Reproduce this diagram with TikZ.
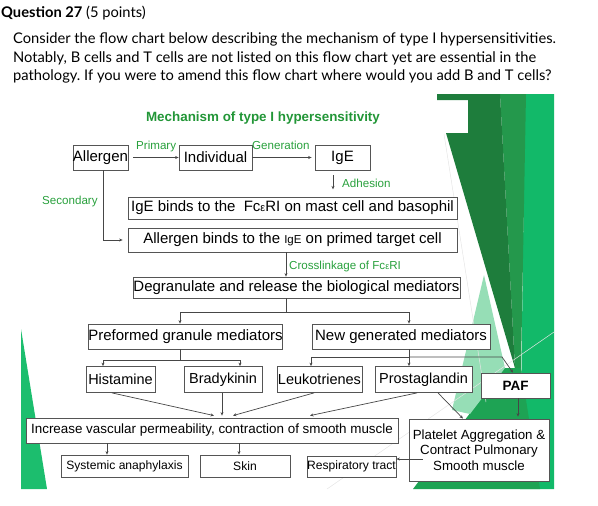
\documentclass[tikz,border=0pt]{standalone}
\usepackage{fontspec}
\setmainfont{Liberation Sans}
\newfontfamily\latofont{Lato}
\usetikzlibrary{arrows.meta,calc}
\frenchspacing
\newcommand\myfs[1]{\fontsize{#1}{#1}\selectfont}
\definecolor{boxgray}{RGB}{85,85,85}
\definecolor{linegray}{RGB}{70,70,70}
\definecolor{lblgreen}{RGB}{40,160,60}
\definecolor{titlegreen}{RGB}{34,150,55}
\definecolor{gdark}{RGB}{30,125,60}
\definecolor{gmed}{RGB}{36,152,76}
\definecolor{gbright}{RGB}{18,185,105}
\definecolor{gbottom}{RGB}{30,163,84}
\definecolor{gmint}{RGB}{150,222,182}
\definecolor{gleft}{RGB}{28,190,110}
\tikzset{
  box/.style={draw=boxgray, fill=white, line width=0.8pt, inner sep=0pt, align=center},
  conn/.style={draw=linegray, line width=0.7pt},
  arr/.style={-{Stealth[length=3.5pt,width=3pt]}},
  lbl/.style={text=lblgreen, inner sep=0pt, font=\myfs{11.6}},
  hdr/.style={anchor=base west, inner sep=0pt, font=\latofont\myfs{14.7}},
}
\begin{document}
\begin{tikzpicture}[x=1pt,y=-1pt]
\useasboundingbox (0,0) rectangle (598,506);
% ---------- background decoration ----------
\fill[gbright] (525,94) -- (554,94) -- (554,489) -- (520,489) -- cycle;
\fill[gmed] (500,94) -- (526,94) -- (521,368) -- (515,368) -- cycle;
\fill[gdark] (437,94) -- (500,94) -- (515,368) -- (446,133) -- (468,133) -- (468,100) -- (437,100) -- cycle;
\fill[gbottom] (413,489) -- (504,368) -- (521,368) -- (540,489) -- cycle;
\fill[gmint] (484,275) -- (505,368) -- (470,414) -- (452,410) -- cycle;
\fill[gleft] (21,329) -- (21,489) -- (47,489) -- cycle;
\draw[gray!20, line width=0.5pt] (444,134) -- (486,402);
\draw[gray!20, line width=0.5pt] (327,489) -- (554,332);
% ---------- header ----------
\node[hdr] (q) at (1,17) {\textbf{Question 27} (5 points)};
\node[hdr] (l1) at (13,43) {Consider the flow chart below describing the mechanism of type I hypersensitivities.};
\node[hdr] (l2) at (13,62) {Notably, B cells and T cells are not listed on this flow chart yet are essential in the};
\node[hdr] (l3) at (13,80) {pathology. If you were to amend this flow chart where would you add B and T cells?};
% ---------- title ----------
\node[text=titlegreen, inner sep=0pt, font=\bfseries\myfs{13.4}] (title) at (263,118) {Mechanism of type I hypersensitivity};
% ---------- boxes ----------
\node[box, minimum width=55pt, minimum height=25pt, font=\myfs{15}] (allergen) at (100.5,157.5) {Allergen};
\node[box, minimum width=73pt, minimum height=25pt, font=\myfs{15}] (individual) at (215.5,157.5) {Individual};
\node[box, minimum width=55pt, minimum height=25pt, font=\myfs{15}] (ige) at (342.5,157.5) {IgE};
\node[box, minimum width=329pt, minimum height=22pt, font=\myfs{15}] (bind1) at (292.5,208) {IgE binds to the\ \ Fc{\myfs{11}ε}RI on mast cell and basophil};
\node[box, minimum width=329pt, minimum height=24pt, font=\myfs{15}] (bind2) at (292.5,240) {Allergen binds to the {\myfs{11.5}IgE} on primed target cell};
\node[box, minimum width=327pt, minimum height=21pt, font=\myfs{15}] (degran) at (296.5,287.5) {Degranulate and release the biological mediators};
\node[box, minimum width=185pt, minimum height=25pt, font=\myfs{15}] (preformed) at (185.5,336.5) {Preformed granule mediators};
\node[box, minimum width=178pt, minimum height=25pt, font=\myfs{15}] (newgen) at (401,336.5) {New generated mediators};
\node[box, minimum width=69pt, minimum height=26pt, font=\myfs{14.5}] (histamine) at (120.5,379.5) {Histamine};
\node[box, minimum width=78pt, minimum height=26pt, font=\myfs{14.5}] (bradykinin) at (223,379.5) {Bradykinin};
\node[box, minimum width=85pt, minimum height=26pt, font=\myfs{14.5}] (leuko) at (319.5,379.5) {Leukotrienes};
\node[box, minimum width=97pt, minimum height=26pt, font=\myfs{14.5}] (prosta) at (423.5,379.5) {Prostaglandin};
\node[box, minimum width=69pt, minimum height=25pt, font=\bfseries\myfs{13.5}] (paf) at (515.5,385.5) {PAF};
\node[box, minimum width=372pt, minimum height=25pt, font=\myfs{13.4}] (increase) at (212,430.5) {Increase vascular permeability, contraction of smooth muscle};
\node[box, minimum width=140pt, minimum height=62pt, font=\fontsize{13.3}{15.3}\selectfont] (platelet) at (479,450) {Platelet Aggregation \&\\ Contract Pulmonary\\ Smooth muscle};
\node[box, minimum width=127pt, minimum height=22pt, font=\myfs{12.1}] (systemic) at (124.5,466) {Systemic anaphylaxis};
\node[box, minimum width=90pt, minimum height=22pt, font=\myfs{12.1}] (skin) at (245,466) {Skin};
\node[box, minimum width=89pt, minimum height=21pt, font=\myfs{12.1}] (resp) at (351.5,466.5) {Respiratory tract};
% ---------- labels ----------
\node[lbl, anchor=base west] (lprimary) at (136,149) {Primary};
\node[lbl, anchor=base west] (lgeneration) at (252,149) {Generation};
\node[lbl, anchor=base west] (ladhesion) at (342,187) {Adhesion};
\node[lbl, anchor=base west] (lsecondary) at (42,204) {Secondary};
\node[lbl, anchor=base west] (lcross) at (289,269) {Crosslinkage of Fc{\myfs{9}ε}RI};
% ---------- connectors ----------
\draw[conn,arr] ([xshift=5pt]allergen.east) -- (individual.west);
\draw[conn,arr] (individual.east) -- ([xshift=-3pt]ige.west);
\draw[conn,arr] ([xshift=-9.5pt,yshift=-5pt]ige.south) -- ++(0,14);
\draw[conn,arr] ([xshift=2.5pt]allergen.south) |- ([xshift=-5pt]bind2.west);
\draw[conn,arr] ([xshift=-6.5pt]bind2.south) -- ([xshift=-10.5pt]degran.north);
\coordinate (j1) at (286,312);
\draw[conn] ([xshift=-10.5pt]degran.south) -- (j1);
\draw[conn,arr] (j1) -| ([xshift=-5.5pt]preformed.north);
\draw[conn,arr] (j1) -| ([xshift=8pt]newgen.north);
\coordinate (j2) at (180,360);
\draw[conn] ([xshift=-5.5pt]preformed.south) -- (j2);
\draw[conn,arr] (j2) -| ([xshift=-17.5pt]histamine.north);
\draw[conn,arr] (j2) -| ([xshift=17pt]bradykinin.north);
\coordinate (j3) at (409,357);
\coordinate (j4) at (502,357);
\draw[conn] ([xshift=8pt]newgen.south) -- (j3);
\draw[conn,arr] (j3) -| ([xshift=-8.5pt]leuko.north);
\draw[conn,arr] (j3) -- ([xshift=-14.5pt]prosta.north);
\draw[conn,arr] (j3) -- (j4) -- ([xshift=-2.5pt]paf.north);
\draw[conn,arr] ([xshift=-8.5pt]histamine.south) -- ([xshift=2pt,yshift=2pt]increase.north);
\draw[conn,arr] ([xshift=-1pt]bradykinin.south) -- ([xshift=10pt,yshift=2pt]increase.north);
\draw[conn,arr] ([xshift=-5.5pt]leuko.south) -- ([xshift=21pt,yshift=2pt]increase.north);
\draw[conn,arr] ([xshift=-6.5pt]prosta.south) -- ([xshift=98pt,yshift=2pt]increase.north);
\draw[conn,arr] ([xshift=14.5pt]prosta.south) -- ([xshift=-16pt]platelet.north);
\draw[conn,arr] ([xshift=2.5pt]paf.south) -- ([xshift=39pt,yshift=2pt]platelet.north);
\draw[conn,arr] ([xshift=-105pt]increase.south) -- ([xshift=-17.5pt]systemic.north);
\draw[conn,arr] ([xshift=27pt]increase.south) -- ([xshift=-6pt]skin.north);
\coordinate (pw) at ([xshift=14pt,yshift=-9pt]platelet.west);
\draw[conn,arr] (pw) -- (pw -| resp.east);
\end{tikzpicture}
\end{document}
